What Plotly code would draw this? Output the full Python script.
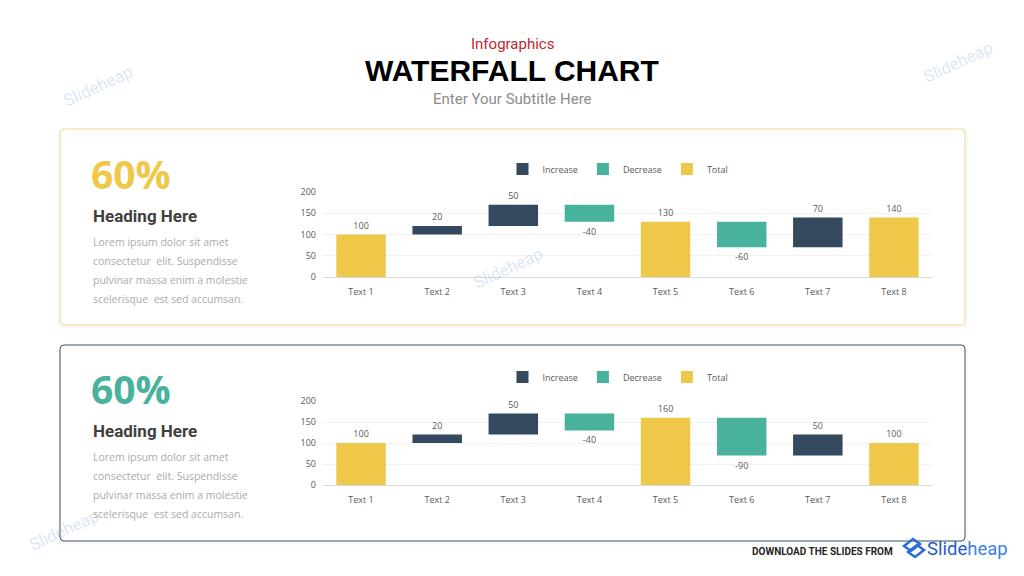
import plotly.graph_objects as go

# ---------------- data ----------------
categories = ["Text 1", "Text 2", "Text 3", "Text 4", "Text 5", "Text 6", "Text 7", "Text 8"]
kinds = ["total", "increase", "increase", "decrease", "total", "decrease", "increase", "total"]
values_top = [100, 20, 50, -40, 130, -60, 70, 140]
values_bottom = [100, 20, 50, -40, 160, -90, 50, 100]
y_ticks = [0, 50, 100, 150, 200]

C_INC = "#34495E"
C_DEC = "#48B29C"
C_TOT = "#EFC84A"

W, H = 1024, 576


def px(x):
    return x / W


def py(y):
    return 1 - y / H


def split_series(values):
    out = {k: {"y": [], "base": [], "text": []} for k in ("increase", "decrease", "total")}
    level = 0
    for v, k in zip(values, kinds):
        for kk in out:
            if kk == k:
                if k == "total":
                    out[kk]["y"].append(v)
                    out[kk]["base"].append(0)
                    level = v
                else:
                    out[kk]["y"].append(v)
                    out[kk]["base"].append(level)
                    level += v
                out[kk]["text"].append(str(v))
            else:
                out[kk]["y"].append(None)
                out[kk]["base"].append(None)
                out[kk]["text"].append("")
    return out


fig = go.Figure()

names = {"increase": "Increase", "decrease": "Decrease", "total": "Total"}
colors = {"increase": C_INC, "decrease": C_DEC, "total": C_TOT}

for idx, (vals, xa, ya, lg) in enumerate([(values_top, "x", "y", "legend"),
                                           (values_bottom, "x2", "y2", "legend2")]):
    s = split_series(vals)
    for k in ("increase", "decrease", "total"):
        fig.add_trace(go.Bar(
            x=categories, y=s[k]["y"], base=s[k]["base"], text=s[k]["text"],
            name=names[k], marker=dict(color=colors[k], line=dict(width=0)),
            width=0.65, textposition="outside", textangle=0, cliponaxis=False,
            textfont=dict(size=9, color="#595959", family="Open Sans"),
            xaxis=xa, yaxis=ya, legend=lg, hoverinfo="skip",
        ))

axis_font = dict(size=9, color="#595959", family="Open Sans")
xa_common = dict(showgrid=False, showline=True, linecolor="#D9D9D9", linewidth=1, automargin=False,
                 ticks="", tickfont=axis_font, ticklabelstandoff=6,
                 domain=[px(323), px(932)], fixedrange=True)
ya_common = dict(range=[0, 200], tickvals=y_ticks, showgrid=True, gridcolor="#F2F2F2",
                 gridwidth=1, zeroline=False, showline=False, ticks="", tickfont=axis_font,
                 ticklabelstandoff=6, automargin=False, fixedrange=True)

# ---------------- shapes (cards) ----------------
shapes = []


def rounded_rect(x0, y0, x1, y1, r, line_color, fill, width=1):
    X = lambda v: px(v)
    Y = lambda v: py(v)
    path = (f"M {X(x0 + r)} {Y(y0)} L {X(x1 - r)} {Y(y0)} Q {X(x1)} {Y(y0)} {X(x1)} {Y(y0 + r)} "
            f"L {X(x1)} {Y(y1 - r)} Q {X(x1)} {Y(y1)} {X(x1 - r)} {Y(y1)} "
            f"L {X(x0 + r)} {Y(y1)} Q {X(x0)} {Y(y1)} {X(x0)} {Y(y1 - r)} "
            f"L {X(x0)} {Y(y0 + r)} Q {X(x0)} {Y(y0)} {X(x0 + r)} {Y(y0)} Z")
    return dict(type="path", xref="paper", yref="paper", path=path,
                line=dict(color=line_color, width=width), fillcolor=fill, layer="below")


# faint shadows
shapes.append(rounded_rect(58, 128, 968, 329, 5, "rgba(0,0,0,0)", "rgba(0,0,0,0.025)"))
shapes.append(rounded_rect(58, 344, 968, 545, 5, "rgba(0,0,0,0)", "rgba(0,0,0,0.025)"))
shapes.append(rounded_rect(60, 129, 965, 325, 4, "#F3D98A", "white"))
shapes.append(rounded_rect(60, 345, 965, 541, 4, "#3E5160", "white"))

# logo icon (simple chevrons)
shapes.append(dict(type="path", xref="paper", yref="paper",
                   path=f"M {px(904)} {py(546)} L {px(913)} {py(539)} L {px(920)} {py(544)} L {px(911)} {py(551)} Z",
                   line=dict(color="#2A6BDB", width=2.5), fillcolor="rgba(0,0,0,0)"))
shapes.append(dict(type="path", xref="paper", yref="paper",
                   path=f"M {px(908)} {py(552)} L {px(917)} {py(545)} L {px(924)} {py(550)} L {px(915)} {py(557)} Z",
                   line=dict(color="#2A6BDB", width=2.5), fillcolor="rgba(0,0,0,0)"))

# ---------------- annotations ----------------
ann = []


def text(x, y, s, size, color, family="Roboto", xanchor="left", bold=False, angle=0):
    ann.append(dict(x=px(x), y=py(y), xref="paper", yref="paper", text=f"<b>{s}</b>" if bold else s,
                    showarrow=False, xanchor=xanchor, yanchor="middle", textangle=angle,
                    font=dict(size=size, color=color, family=family)))


# watermarks
wm = "rgba(120,160,225,0.28)"
for (wx, wy) in [(98, 86), (958, 62), (508, 268), (64, 530)]:
    text(wx, wy, "Slideheap", 17, wm, family="Roboto", xanchor="center", angle=-25)

text(512, 44, "Infographics", 15, "#C0262D", xanchor="center")
text(512, 71, "WATERFALL CHART", 30, "#000000", family="Liberation Sans", xanchor="center", bold=True)
text(512, 99, "Enter Your Subtitle Here", 15, "#8C8C8C", xanchor="center")

lorem = ["Lorem ipsum dolor sit amet", "consectetur  elit. Suspendisse",
         "pulvinar massa enim a molestie", "scelerisque  est sed accumsan."]

for (top, pct_color) in [(0, C_TOT), (215, C_DEC)]:
    text(89, 173 + top, "60%", 39, pct_color, family="Open Sans", bold=True)
    text(91, 216 + top, "Heading Here", 17, "#404040", family="Roboto", bold=True)
    for i, line in enumerate(lorem):
        text(91, 242 + top + 19 * i, line, 10.5, "#ABABAB", family="Open Sans")

text(750, 551, "DOWNLOAD THE SLIDES FROM", 10, "#262626", family="Roboto", bold=True)
ann.append(dict(x=px(925), y=py(549), xref="paper", yref="paper", showarrow=False,
                xanchor="left", yanchor="middle",
                text="<span style='color:#1E5CC8'>Slide</span><span style='color:#3C82E6'>heap</span>",
                font=dict(size=18.5, family="Roboto")))

legend_common = dict(orientation="h", xanchor="center", yanchor="middle", bgcolor="rgba(0,0,0,0)",
                     font=dict(size=9, color="#595959", family="Open Sans"), itemwidth=30,
                     traceorder="normal", itemclick=False, itemdoubleclick=False)

fig.update_layout(
    width=W, height=H, margin=dict(l=0, r=0, t=0, b=0, autoexpand=False),
    paper_bgcolor="white", plot_bgcolor="rgba(0,0,0,0)",
    barmode="overlay", bargap=0.35,
    xaxis=dict(**xa_common, anchor="y"),
    yaxis=dict(**ya_common, domain=[py(277), py(192)], anchor="x"),
    xaxis2=dict(**xa_common, anchor="y2"),
    yaxis2=dict(**ya_common, domain=[py(485), py(401)], anchor="x2"),
    legend=dict(**legend_common, x=px(618), y=py(169)),
    legend2=dict(**legend_common, x=px(618), y=py(377)),
    shapes=shapes, annotations=ann, showlegend=True,
)

fig.write_html("out.html", config={"displayModeBar": False},
               post_script="document.body.style.margin='0';document.body.style.overflow='hidden';")
